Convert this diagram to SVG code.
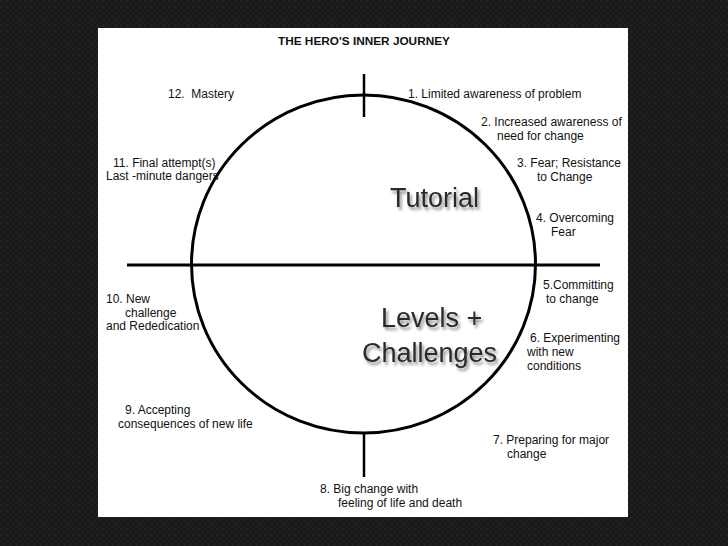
<svg xmlns="http://www.w3.org/2000/svg" width="728" height="546" viewBox="0 0 728 546">
  <defs>
    <pattern id="carbon" width="6" height="6" patternUnits="userSpaceOnUse">
      <rect width="6" height="6" fill="#191919"/>
      <circle cx="1.5" cy="1.5" r="1.2" fill="#242424"/>
      <circle cx="4.5" cy="4.5" r="1.2" fill="#222222"/>
    </pattern>
    <filter id="shadow" x="-10%" y="-30%" width="130%" height="170%">
      <feGaussianBlur in="SourceAlpha" stdDeviation="1.8" result="b"/>
      <feOffset dx="2" dy="3" result="o"/>
      <feComponentTransfer in="o" result="s"><feFuncA type="linear" slope="0.45"/></feComponentTransfer>
      <feMerge><feMergeNode in="s"/><feMergeNode in="SourceGraphic"/></feMerge>
    </filter>
    <style>
      .lbl { font-family: "Liberation Sans", Arial, sans-serif; font-size: 12px; fill: #111; white-space: pre; }
      .title { font-family: "Liberation Sans", Arial, sans-serif; font-size: 11.8px; font-weight: bold; fill: #111; }
      .big { font-family: "Liberation Sans", Arial, sans-serif; font-size: 27px; fill: #2a2a2a; filter: url(#shadow); }
      .line { stroke: #000; fill: none; }
    </style>
  </defs>

  <rect width="728" height="546" fill="url(#carbon)"/>
  <rect x="98" y="28" width="530" height="489" fill="#ffffff"/>

  <text class="title" x="278" y="45">THE HERO'S INNER JOURNEY</text>

  <g id="connectors">
    <ellipse class="line" cx="363.5" cy="264" rx="172" ry="169" stroke-width="3"/>
    <line class="line" x1="127" y1="265" x2="600" y2="265" stroke-width="3"/>
    <line class="line" x1="364" y1="74" x2="364" y2="117" stroke-width="2.5"/>
    <line class="line" x1="364" y1="433" x2="364" y2="477" stroke-width="2.5"/>
  </g>

  <g id="stage-1"><text class="lbl" x="408" y="98">1. Limited awareness of problem</text></g>
  <g id="stage-2">
    <text class="lbl" x="481" y="126">2. Increased awareness of</text>
    <text class="lbl" x="497" y="140">need for change</text>
  </g>
  <g id="stage-3">
    <text class="lbl" x="517" y="167">3. Fear; Resistance</text>
    <text class="lbl" x="537" y="181">to Change</text>
  </g>
  <g id="stage-4">
    <text class="lbl" x="536" y="222">4. Overcoming</text>
    <text class="lbl" x="551" y="236">Fear</text>
  </g>
  <g id="stage-5">
    <text class="lbl" x="543" y="289">5.Committing</text>
    <text class="lbl" x="546" y="303">to change</text>
  </g>
  <g id="stage-6">
    <text class="lbl" x="530" y="342">6. Experimenting</text>
    <text class="lbl" x="527" y="356">with new</text>
    <text class="lbl" x="527" y="370">conditions</text>
  </g>
  <g id="stage-7">
    <text class="lbl" x="493" y="444">7. Preparing for major</text>
    <text class="lbl" x="507" y="458">change</text>
  </g>
  <g id="stage-8">
    <text class="lbl" x="320" y="493">8. Big change with</text>
    <text class="lbl" x="338" y="507">feeling of life and death</text>
  </g>
  <g id="stage-9">
    <text class="lbl" x="125" y="414">9. Accepting</text>
    <text class="lbl" x="118" y="428">consequences of new life</text>
  </g>
  <g id="stage-10">
    <text class="lbl" x="106" y="303">10. New</text>
    <text class="lbl" x="125" y="317">challenge</text>
    <text class="lbl" x="106" y="330">and Rededication</text>
  </g>
  <g id="stage-11">
    <text class="lbl" x="113" y="167">11. Final attempt(s)</text>
    <text class="lbl" x="106" y="180">Last -minute dangers</text>
  </g>
  <g id="stage-12"><text class="lbl" x="168" y="98" xml:space="preserve">12.  Mastery</text></g>

  <g id="tutorial"><text class="big" x="390" y="207">Tutorial</text></g>
  <g id="levels">
    <text class="big" x="381" y="327">Levels +</text>
    <text class="big" x="362" y="362">Challenges</text>
  </g>
</svg>
